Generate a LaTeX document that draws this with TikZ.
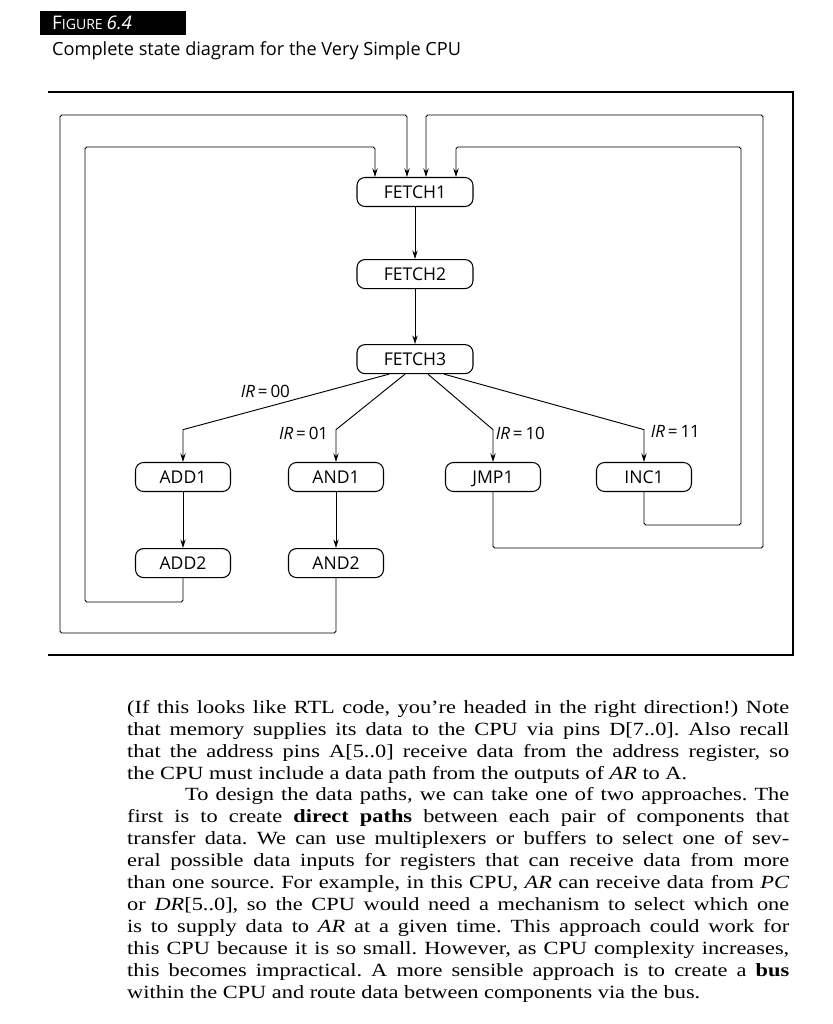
\documentclass[tikz,border=0pt]{standalone}
\usepackage{fontspec}
\setmainfont[FakeStretch=1.2]{Liberation Serif}
\setsansfont{Open Sans}
\usepackage{tikz}
\usetikzlibrary{arrows.meta,positioning,calc}
\frenchspacing
\tikzset{
  % --- state diagram (figure 6.4) -------------------------------------------
  fetchstate/.style={
    rectangle, rounded corners=0.24cm, draw, line width=0.9pt,
    minimum width=3.48cm, minimum height=0.87cm, inner sep=0pt,
    text height=10.8pt, text depth=0pt,
    font=\sffamily\fontsize{15}{15}\selectfont
  },
  opstate/.style={fetchstate, minimum width=2.85cm},
  irlabel/.style={font=\sffamily\fontsize{14.5}{14.5}\selectfont, inner sep=2pt},
  stateline/.style={draw, line width=0.8pt, -{Stealth[length=0.26cm, width=0.16cm]}},
  loopline/.style={stateline, rounded corners=1.5pt},
  framerule/.style={draw, line width=1pt},
  % --- page furniture -------------------------------------------------------
  figtag/.style={
    fill=black, text=white, text width=3.66cm, align=left,
    inner xsep=0.36cm, minimum height=0.72cm, inner ysep=0pt
  },
  figcaption/.style={inner sep=0pt, font=\sffamily\fontsize{15.5}{18}\selectfont},
  bodytext/.style={
    inner sep=0pt, text width=19.86cm, align=justify,
    font=\fontsize{15.9}{18.7}\selectfont
  },
}

\begin{document}
\begin{tikzpicture}[x=0.03cm, y=-0.03cm]
    \useasboundingbox (0,0) rectangle (833,1024);

    % caption
    \node[figtag, anchor=west] (tag) at (40,23)
      {\sffamily\fontsize{16}{16}\selectfont F{\fontsize{12}{12}\selectfont IGURE}~\textit{6.4}};
    \node[figcaption, anchor=base west] (caption) at (52,55) {Complete state diagram for the Very Simple CPU};

    % states
    \node[fetchstate] (fetch1) at (415,192) {FETCH1};
    \node[fetchstate, below=1.56cm of fetch1] (fetch2) {FETCH2};
    \node[fetchstate, below=1.65cm of fetch2] (fetch3) {FETCH3};
    \node[opstate] (add1) at (183,477) {ADD1};
    \node[opstate] (and1) at (336,477) {AND1};
    \node[opstate] (jmp1) at (493,477) {JMP1};
    \node[opstate] (inc1) at (644,477) {INC1};
    \node[opstate, below=1.68cm of add1] (add2) {ADD2};
    \node[opstate, below=1.68cm of and1] (and2) {AND2};

    \coordinate (in00) at ([xshift=-1.2cm]fetch1.north);
    \coordinate (in01) at ([xshift=-0.24cm]fetch1.north);
    \coordinate (in10) at ([xshift=0.33cm]fetch1.north);
    \coordinate (in11) at ([xshift=1.23cm]fetch1.north);

    \draw[stateline] (fetch1) -- (fetch2);
    \draw[stateline] (fetch2) -- (fetch3);
    \draw[stateline] ([xshift=-0.78cm]fetch3.south) -- node[irlabel, pos=0.6, above=0.22cm]{\textit{IR}\,=\,00}
      ([yshift=0.97cm]add1.north) -- (add1.north);
    \draw[stateline] ([xshift=-0.3cm]fetch3.south) -- ([yshift=0.97cm]and1.north)
      node[irlabel, left=0.15cm, yshift=-0.12cm]{\textit{IR}\,=\,01} -- (and1.north);
    \draw[stateline] ([xshift=0.39cm]fetch3.south) -- ([yshift=0.97cm]jmp1.north)
      node[irlabel, right, yshift=-0.12cm]{\textit{IR}\,=\,10} -- (jmp1.north);
    \draw[stateline] ([xshift=0.87cm]fetch3.south) -- ([yshift=0.97cm]inc1.north)
      node[irlabel, right=0.12cm, yshift=-0.06cm]{\textit{IR}\,=\,11} -- (inc1.north);
    \draw[stateline] (add1) -- (add2);
    \draw[stateline] (and1) -- (and2);

    % back to FETCH1
    \draw[loopline] (add2.south) |- (85,602) -- (85,147) -| (in00);
    \draw[loopline] (and2.south) |- (60,633) -- (60,115) -| (in01);
    \draw[loopline] (jmp1.south) |- (763,548) -- (763,115) -| (in10);
    \draw[loopline] (inc1.south) |- (741,525) -- (741,147) -| (in11);

    \draw[framerule] (48,92) -- (793,92) -- (793,655) -- (48,655);

    % running text
    \node[bodytext, anchor=north west] (para) at (127,700) {\noindent
      (If this looks like RTL code, you're headed in the right direction!) Note\linebreak
      that memory supplies its data to the CPU via pins D[7..0]. Also recall\linebreak
      that the address pins A[5..0] receive data from the address register, so\linebreak
      the CPU must include a data path from the outputs of \textit{AR} to A.\par
      \hspace*{1.74cm}To design the data paths, we can take one of two approaches. The\linebreak
      first is to create \textbf{direct paths} between each pair of components that\linebreak
      transfer data. We can use multiplexers or buffers to select one of sev-\linebreak
      eral possible data inputs for registers that can receive data from more\linebreak
      than one source. For example, in this CPU, \textit{AR} can receive data from \textit{PC}\linebreak
      or \textit{DR}[5..0], so the CPU would need a mechanism to select which one\linebreak
      is to supply data to \textit{AR} at a given time. This approach could work for\linebreak
      this CPU because it is so small. However, as CPU complexity increases,\linebreak
      this becomes impractical. A more sensible approach is to create a \textbf{bus}\linebreak
      within the CPU and route data between components via the bus.};
  \end{tikzpicture}
\end{document}
